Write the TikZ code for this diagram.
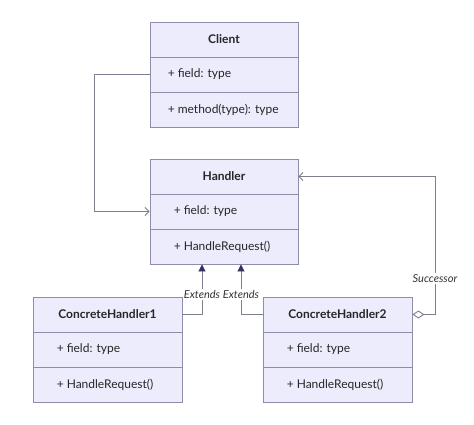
\documentclass[tikz,border=0pt]{standalone}
\usepackage{fontspec}
\setmainfont{Lato}
\usetikzlibrary{arrows.meta,calc}
\definecolor{boxfill}{HTML}{ECECFD}
\definecolor{boxline}{HTML}{8E8EAA}
\definecolor{conn}{HTML}{7E7E90}
\definecolor{tri}{HTML}{333366}
\tikzset{
  row/.style={draw=boxline, fill=boxfill, line width=0.9pt, minimum height=35pt, inner sep=0pt},
  txt/.style={anchor=west, inner sep=0pt, font=\fontsize{12}{14}\selectfont, text=black!85},
  ttl/.style={font=\fontsize{12}{14}\selectfont\bfseries, text=black!85},
  lbl/.style={fill=white, inner xsep=0.3pt, inner ysep=1.5pt, font=\fontsize{11}{13}\selectfont\itshape, text=black!80},
  connector/.style={draw=conn, line width=0.9pt},
  assoc/.style={connector, -{Straight Barb[length=4pt,width=8pt]}},
  ext/.style={connector, -{Triangle[length=7pt,width=7pt,fill=tri,color=tri]}},
  aggr/.style={connector, {Diamond[open,length=12pt,width=8pt,fill=white]}-{Straight Barb[length=4pt,width=8pt]}}
}
\begin{document}
\begin{tikzpicture}[x=1pt,y=-1pt]
\useasboundingbox[fill=white] (0,0) rectangle (474,424);
% Client
\node[row, minimum width=148pt] (ct) at (224,39.5) {};
\node[row, minimum width=148pt] (cf) at (224,74.5) {};
\node[row, minimum width=148pt] (cm) at (224,109.5) {};
\node[ttl] (ctt) at (ct) {Client};
\node[txt] (cft) at ($(cf.west)+(18,0)$) {+ field: type};
\node[txt] (cmt) at ($(cm.west)+(18,0)$) {+ method(type): type};
% Handler
\node[row, minimum width=148pt] (ht) at (224,176.5) {};
\node[row, minimum width=148pt] (hf) at (224,211.5) {};
\node[row, minimum width=148pt] (hm) at (224,246.5) {};
\node[ttl] (htt) at (ht) {Handler};
\node[txt] (hft) at ($(hf.west)+(24,0)$) {+ field: type};
\node[txt] (hmt) at ($(hm.west)+(24,0)$) {+ HandleRequest()};
% ConcreteHandler1
\node[row, minimum width=149pt] (at) at (107.5,314.5) {};
\node[row, minimum width=149pt] (af) at (107.5,349.5) {};
\node[row, minimum width=149pt] (am) at (107.5,384.5) {};
\node[ttl] (att) at (at) {ConcreteHandler1};
\node[txt] (aft) at ($(af.west)+(24,0)$) {+ field: type};
\node[txt] (amt) at ($(am.west)+(24,0)$) {+ HandleRequest()};
% ConcreteHandler2
\node[row, minimum width=149pt] (bt) at (337.5,314.5) {};
\node[row, minimum width=149pt] (bf) at (337.5,349.5) {};
\node[row, minimum width=149pt] (bm) at (337.5,384.5) {};
\node[ttl] (btt) at (bt) {ConcreteHandler2};
\node[txt] (bft) at ($(bf.west)+(24,0)$) {+ field: type};
\node[txt] (bmt) at ($(bm.west)+(24,0)$) {+ HandleRequest()};
% connectors
\coordinate (c1) at (94,0);
\draw[assoc] (cf.west) -- (cf.west -| c1) -- (hf.west -| c1) -- (hf.west);
\coordinate (e1) at (202,0);
\coordinate (e2) at (241,0);
\draw[ext] (at.east) -- (at.east -| e1) -- node[lbl, pos=0.4] (l1) {Extends} (hm.south -| e1);
\draw[ext] (bt.west) -- (bt.west -| e2) -- node[lbl, pos=0.4] (l2) {Extends} (hm.south -| e2);
\coordinate (s1) at (435,0);
\draw[aggr] (bt.east) -- (bt.east -| s1) -- node[lbl, pos=0.26] (l3) {Successor} (ht.east -| s1) -- (ht.east);
\end{tikzpicture}
\end{document}
